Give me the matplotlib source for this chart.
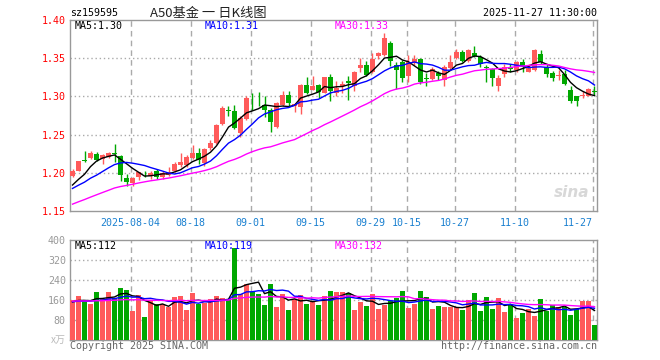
import numpy as np
import pandas as pd
import matplotlib
matplotlib.use("Agg")
import matplotlib.pyplot as plt

# ---------------- data ----------------
opens = [1.196, 1.203, 1.216, 1.220, 1.2245, 1.218, 1.221, 1.2255, 1.2215, 1.1935,
         1.187, 1.195, 1.200, 1.196, 1.203, 1.194, 1.1975, 1.2025, 1.210, 1.210,
         1.219, 1.2265, 1.2125, 1.232, 1.2385, 1.264, 1.2815, 1.281, 1.2515, 1.271,
         1.298, 1.2955, 1.2885, 1.282, 1.2595, 1.2885, 1.3015, 1.287, 1.286, 1.315,
         1.3085, 1.315, 1.305, 1.325, 1.305, 1.313, 1.320, 1.313, 1.337, 1.341,
         1.3315, 1.3535, 1.354, 1.370, 1.3415, 1.345, 1.327, 1.3435, 1.349, 1.3245,
         1.323, 1.330, 1.3215, 1.337, 1.350, 1.3575, 1.3465, 1.3565, 1.352, 1.339,
         1.336, 1.313, 1.329, 1.339, 1.3345, 1.345, 1.3325, 1.3345, 1.355, 1.338,
         1.331, 1.3265, 1.3295, 1.3085, 1.300, 1.300, 1.301, 1.307]
highs = [1.205, 1.216, 1.229, 1.228, 1.2275, 1.225, 1.2275, 1.2375, 1.223, 1.198,
         1.194, 1.2015, 1.2025, 1.2025, 1.205, 1.2025, 1.207, 1.2135, 1.2265, 1.223,
         1.236, 1.233, 1.232, 1.243, 1.264, 1.287, 1.288, 1.2885, 1.274, 1.300,
         1.305, 1.306, 1.301, 1.2845, 1.293, 1.307, 1.307, 1.292, 1.316, 1.325,
         1.327, 1.316, 1.326, 1.329, 1.3205, 1.3205, 1.327, 1.3335, 1.350, 1.3465,
         1.357, 1.3575, 1.383, 1.372, 1.345, 1.3475, 1.3545, 1.3545, 1.350, 1.330,
         1.339, 1.333, 1.341, 1.3545, 1.362, 1.361, 1.362, 1.366, 1.354, 1.341,
         1.337, 1.328, 1.342, 1.343, 1.3465, 1.349, 1.3425, 1.3625, 1.361, 1.3425,
         1.3335, 1.334, 1.334, 1.313, 1.300, 1.3065, 1.3105, 1.3135]
lows = [1.195, 1.202, 1.214, 1.218, 1.216, 1.212, 1.220, 1.2135, 1.1895, 1.183,
        1.183, 1.191, 1.195, 1.1925, 1.1915, 1.1925, 1.196, 1.201, 1.208, 1.208,
        1.218, 1.2115, 1.209, 1.230, 1.2375, 1.263, 1.274, 1.257, 1.2475, 1.2695,
        1.2825, 1.287, 1.2725, 1.2535, 1.258, 1.288, 1.2855, 1.279, 1.277, 1.303,
        1.308, 1.2985, 1.3045, 1.2935, 1.301, 1.305, 1.2955, 1.3075, 1.332, 1.3265,
        1.3305, 1.349, 1.3535, 1.340, 1.3095, 1.3195, 1.3195, 1.341, 1.316, 1.314,
        1.322, 1.321, 1.313, 1.335, 1.3485, 1.3455, 1.3455, 1.352, 1.339, 1.3195,
        1.314, 1.307, 1.325, 1.332, 1.332, 1.332, 1.332, 1.333, 1.342, 1.326,
        1.3205, 1.3215, 1.315, 1.291, 1.287, 1.298, 1.300, 1.302]
closes = [1.203, 1.215, 1.2155, 1.226, 1.217, 1.223, 1.226, 1.225, 1.1975, 1.188,
          1.193, 1.2005, 1.1995, 1.1995, 1.194, 1.1995, 1.2005, 1.212, 1.2135, 1.221,
          1.226, 1.217, 1.231, 1.2395, 1.263, 1.2845, 1.281, 1.258, 1.2715, 1.2975,
          1.2975, 1.295, 1.282, 1.267, 1.2915, 1.3015, 1.2915, 1.2895, 1.315, 1.3045,
          1.314, 1.306, 1.325, 1.3075, 1.3105, 1.316, 1.3175, 1.332, 1.3415, 1.328,
          1.349, 1.3565, 1.376, 1.3465, 1.335, 1.324, 1.345, 1.349, 1.3195, 1.3225,
          1.336, 1.327, 1.339, 1.3455, 1.3575, 1.3465, 1.361, 1.3535, 1.342, 1.337,
          1.324, 1.324, 1.339, 1.336, 1.345, 1.338, 1.338, 1.361, 1.345, 1.3295,
          1.3245, 1.328, 1.3165, 1.2935, 1.2945, 1.3015, 1.3095, 1.306]
# volume in 万 (10k) units
volumes = [159, 175, 156, 145, 191, 164, 191, 169, 207, 201,
           115, 179, 91, 161, 145, 145, 132, 172, 175, 119,
           187, 145, 148, 163, 175, 167, 161, 369, 185, 225,
           193, 185, 139, 223, 131, 185, 119, 165, 181, 145,
           156, 139, 176, 196, 192, 191, 187, 119, 151, 135,
           183, 123, 139, 155, 167, 196, 127, 143, 196, 171,
           123, 135, 131, 131, 131, 119, 159, 187, 115, 171,
           125, 167, 111, 139, 87, 107, 123, 95, 163, 115,
           139, 131, 131, 99, 123, 155, 155, 59]
# estimated history before the visible window (feeds the moving averages)
prior_closes = [1.122, 1.128, 1.131, 1.126, 1.133, 1.138, 1.135, 1.140, 1.145, 1.148,
                1.150, 1.155, 1.158, 1.160, 1.162, 1.165, 1.166, 1.168, 1.170, 1.174,
                1.172, 1.176, 1.174, 1.178, 1.175, 1.178, 1.182, 1.176, 1.181]
prior_volumes = [150, 162, 148, 158, 170, 145, 160, 155, 165, 152,
                 148, 160, 172, 150, 158, 163, 147, 155, 168, 152,
                 150, 158, 145, 162, 150, 148, 155, 150, 152]

date_ticks = [10, 20, 30, 40, 50, 56, 64, 74, 87]
date_labels = ["2025-08-04", "08-18", "09-01", "09-15", "09-29", "10-15", "10-27", "11-10", "11-27"]
price_ticks = [1.15, 1.20, 1.25, 1.30, 1.35, 1.40]
vol_ticks = [80, 160, 240, 320, 400]

# ---------------- style ----------------
RED = "#ff5a5a"
GREEN = "#00a800"
MONO = "DejaVu Sans Mono"
CJK = ["Noto Sans CJK SC", "DejaVu Sans"]
FS = 7.2

W, H = 660, 360
fig = plt.figure(figsize=(6.6, 3.6), dpi=100)


def ax_px(l, t, r, b):
    return fig.add_axes([l / W, 1 - b / H, (r - l) / W, (b - t) / H])


axp = ax_px(70, 20, 597, 211)
axv = ax_px(70, 240, 597, 340)

n = len(closes)
idx = np.arange(n)
o = np.array(opens); c = np.array(closes); hi = np.array(highs); lo = np.array(lows)
up = c >= o
cols = [RED if u else GREEN for u in up]
xl = (-2.5 / 6, 524.5 / 6)
bw = 5 / 6


def ma(prior, vals, k):
    s = pd.Series(list(prior) + list(vals)).rolling(k).mean().values
    return s[len(prior):]


# ---- price panel ----
axp.vlines(idx, lo, hi, colors=cols, linewidth=1, zorder=3)
body_h = np.maximum(np.abs(c - o), 0.0007)
axp.bar(idx, body_h, bottom=np.minimum(o, c), width=bw, color=cols, linewidth=0, zorder=4)
axp.plot(idx, ma(prior_closes, closes, 5), color="black", lw=1, zorder=5)
axp.plot(idx, ma(prior_closes, closes, 10), color="#0000ff", lw=1, zorder=5)
axp.plot(idx, ma(prior_closes, closes, 30), color="#ff00ff", lw=1, zorder=5)
axp.set_xlim(*xl)
axp.set_ylim(1.15, 1.40)

# ---- volume panel ----
axv.bar(idx, volumes, width=bw, color=cols, linewidth=0, zorder=3)
axv.plot(idx, ma(prior_volumes, volumes, 5), color="black", lw=1, zorder=5)
axv.plot(idx, ma(prior_volumes, volumes, 10), color="#0000ff", lw=1, zorder=5)
axv.plot(idx, ma(prior_volumes, volumes, 30), color="#ff00ff", lw=1, zorder=5)
axv.set_xlim(*xl)
axv.set_ylim(0, 400)

vline_pos = [t - 0.33 for t in date_ticks]
for ax in (axp, axv):
    for s in ax.spines.values():
        s.set_color("#999999")
        s.set_linewidth(1)
    for xv in vline_pos:
        ax.axvline(xv, color="#aaaaaa", lw=1, ls=(0, (4, 3)), zorder=1)
    ax.tick_params(length=0)

for yv in [1.20, 1.25, 1.30, 1.35]:
    axp.axhline(yv, color="#aaaaaa", lw=1, ls=(0, (1, 2)), zorder=1)
for yv in [80, 160, 240, 320]:
    axv.axhline(yv, color="#aaaaaa", lw=1, ls=(0, (1, 2)), zorder=1)

axp.set_yticks(price_ticks)
axp.set_yticklabels(["%.2f" % v for v in price_ticks], color="red", family=MONO, fontsize=FS)
axp.tick_params(axis="y", pad=3)
axp.set_xticks(vline_pos)
xlabs = axp.set_xticklabels(date_labels, color="#1a80d0", family=MONO, fontsize=FS)
xlabs[-1].set_horizontalalignment("right")
axp.tick_params(axis="x", pad=5)

axv.set_yticks(vol_ticks)
axv.set_yticklabels([str(v) for v in vol_ticks], color="#999999", family=MONO, fontsize=FS)
axv.tick_params(axis="y", pad=3)
axv.set_xticks([])
axv.text(-4 / 527, 0.0, "x万", transform=axv.transAxes, ha="right", va="center",
         color="#bbbbbb", fontsize=FS, family=CJK)

# headers inside panels
def hdr(ax, y, items):
    for xf, txt, col in items:
        ax.text(xf, y, txt, transform=ax.transAxes, ha="left", va="center",
                color=col, family=MONO, fontsize=FS, zorder=6)

hdr(axp, (211 - 26) / 191, [(5 / 527, "MA5:1.30", "black"),
                            (135 / 527, "MA10:1.31", "#0000ff"),
                            (265 / 527, "MA30:1.33", "#ff00ff")])
hdr(axv, (340 - 246) / 100, [(5 / 527, "MA5:112", "black"),
                             (135 / 527, "MA10:119", "#0000ff"),
                             (265 / 527, "MA30:132", "#ff00ff")])

# watermark
axp.text(0.985, 0.06, "sina", transform=axp.transAxes, ha="right", va="bottom",
         color="#d8d8d8", fontsize=11, fontweight="bold", style="italic", zorder=2)

# titles & footer
fig.text(70 / W, 1 - 13 / H, "sz159595", ha="left", va="center", family=MONO,
         fontsize=FS, color="black")
fig.text(150 / W, 1 - 13 / H, "A50基金 一 日K线图", ha="left", va="center", family=CJK,
         fontsize=9.5, color="#222222")
fig.text(597 / W, 1 - 13 / H, "2025-11-27 11:30:00", ha="right", va="center", family=MONO,
         fontsize=FS, color="black")
fig.text(70 / W, 1 - 346 / H, "Copyright 2025 SINA.COM", ha="left", va="center", family=MONO,
         fontsize=FS, color="#666666")
fig.text(597 / W, 1 - 346 / H, "http://finance.sina.com.cn", ha="right", va="center",
         family=MONO, fontsize=FS, color="#666666")

fig.savefig("out.png", dpi=100, facecolor="white")
